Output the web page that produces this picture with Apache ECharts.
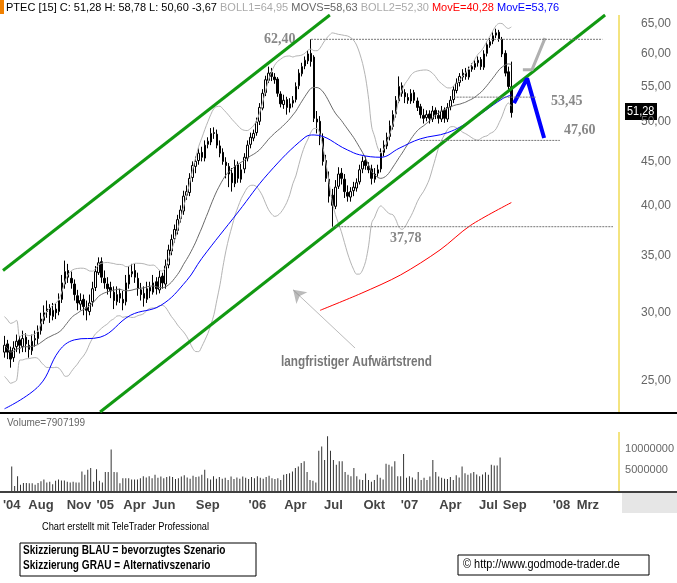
<!DOCTYPE html>
<html><head><meta charset="utf-8">
<script src="https://cdn.jsdelivr.net/npm/echarts@6/dist/echarts.min.js"></script>
<style>html,body{margin:0;padding:0;background:#fff}#c{width:677px;height:583px}</style>
</head><body><div id="c"></div>
<script>
// weekly candles, PTEC, from late May 2004
var opens = [27,27.6,27.1,26.6,27.4,27.9,27.4,28.1,27.5,27.1,27.9,
  28,28.6,29.4,30.1,30.4,29.7, 30.3,30.1,31.1,32.4, 33.6,32.9,32.4,31.4,30.7,
  31.1,30.4,30.1, 30.9,32.1,33.4,34.4, 32.9,32.4,32.1, 31.7,30.9,31.6,31.1,
  30.9,32.4,33.3,33.6, 32.9,31.9,31.6, 31.1,32.1,31.7,32.6,31.9,33.1,
  32.4,34.1,35.4,36.6,37.4, 38.6,39.4,41.1,41.4,43.1,44.4, 45.1,46.1,45.4,47.1,47.4,
  48.6,48.4,46.9,46.1,44.9, 44.4,43.6,42.4,44.6, 42.9,44.1,45.4,47.1,47.9,
  48.6,50.1,51.9,54.1,55.9, 57.1,56.4,56.1, 53.9,52.4,53.1,51.9,52.6,
  53.1,55.1,56.9, 58.1,58.9,60.1, 59.5,50.4,50.1, 47.9,45.1,42.9,41.1,
  39.9,42.1,43.6, 42.9,41.4,40.9,41.6,41.9, 42.6,44.1,45.1,44.4,44.1,
  42.9,43.6,44.1,46.1, 46.9,48.1,49.4,51.1, 52.9,55.1, 54.1,53.4,52.9,54.1,52.9,
  52.1,50.9,50.6,51.1,50.4, 51.6,50.9,50.4,51.6,50.4, 52.1,53.1,54.4,55.6,
  56.4,57.1,56.4,57.6,57.9, 58.6,59.1,57.9,60.1,61.4, 62.1,63.1,63.6, 62.4,60.1,57.2,54.95];
var closes = [27.5,27,26.5,27.3,27.8,27.5,28,27.6,27.2,27.8,28,
  28.5,29.5,30,30.3,29.8,30.2, 30,31,32.5,33.5, 33,32.5,31.5,30.8,31,
  30.5,30.2,30.8, 32,33.5,34.3,33, 32.5,32,31.8, 31,31.5,31.2,30.8,
  32.5,33.2,33.5,33, 32,31.5,31.2, 32,31.8,32.5,32,33,32.5,
  34,35.5,36.5,37.5,38.5, 39.5,41,41.5,43,44.5,45, 46,45.5,47,47.5,48.5,
  48.5,47,46,45,44.5, 43.5,42.5,44.5,43, 44,45.5,47,48,48.5,
  50,52,54,56,57, 56.5,56,54, 52.5,53,52,52.5,53,
  55,57,58, 59,60,58.8, 50.5,50,48, 45,43,41,40,
  42,43.5,43, 41.5,41,41.5,42,42.5, 44,45,44.5,44,43,
  43.5,44,46,47, 48,49.5,51,53, 55,54, 53.5,53,54,53,52,
  51,50.5,51,50.5,51.5, 51,50.5,51.5,50.5,52, 53,54.5,55.5,56.5,
  57,56.5,57.5,58,58.5, 59,58,60,61.5,62, 63,63.5,62.5, 60,57,55,51.28];
var highs = [28.2,27.9,27.4,27.8,28.3,28.2,28.6,28.4,27.9,28.3,28.6,
  29,30,30.6,31,30.7,30.8, 30.8,31.6,33.2,34.5, 34.2,33.5,32.8,31.9,31.6,
  31.5,31,31.5, 32.6,34,34.8,34.8, 33.6,33,32.6, 32.2,32.2,32,31.8,
  33.2,34,34.2,34.2, 33.4,32.5,32.2, 32.6,32.6,33.2,33,33.6,33.4,
  34.6,36,37,38,39, 40,41.6,42.2,43.6,45,45.6, 46.6,46.8,47.6,48,49.2,
  49.3,49,47.6,46.6,45.5, 44.8,44.2,45.2,45, 44.7,46,47.6,48.6,49,
  50.6,52.6,54.6,56.6,58, 57.8,57,56.4, 54.3,53.8,53.5,53.3,53.6,
  55.6,57.6,58.6, 59.6,60.6,62.4, 59.8,51.5,50.8, 48.5,45.8,43.8,41.8,
  42.8,44.3,44.2, 43.5,42.2,42,42.6,43, 44.6,45.6,45.6,44.9,44.6,
  44.2,44.6,46.6,47.6, 48.6,50.2,51.6,53.6, 56.5,55.6, 54.6,54,54.6,54.5,53.4,
  52.5,51.8,51.6,51.6,52.2, 52,51.6,52.2,52,52.6, 53.6,55,56.2,57,
  57.6,57.8,58,58.5,59, 59.6,59.5,60.6,62,62.6, 63.6,64.2,64, 62.8,60.6,58,58.78];
var lows = [26.6,26.5,25.9,26.3,27,26.9,27,27,26.6,26.8,27.4,
  27.6,28.3,29.1,29.6,29.2,29.4, 29.5,29.8,30.8,32, 32.5,32,31,30.2,30.2,
  29.8,29.4,29.8, 30.5,31.8,33.2,32.5, 32,31.5,31.2, 30.3,30.6,30.8,30.2,
  30.6,32,33,32.5, 31.4,31,30.5, 30.8,31.2,31.5,31.5,31.6,32,
  32,33.8,35,36.2,37, 38.2,39,40.6,41,42.6,43.6, 44.6,45,45,46.6,47,
  47.8,46.6,45.5,44.6,43, 42,41.5,42,42.5, 42.5,43.6,45,46.6,47.5,
  48.2,49.6,51.6,53.6,55.5, 55.8,55.4,53.5, 52,51.8,51,51.3,52,
  52.7,54.6,56.5, 57.6,58.4,58, 50,48.5,47, 44.5,42.6,40.3,37.78,
  39.6,41.8,42.3, 40.8,40.4,40.4,41,41.5, 42.3,43.6,44,43.6,42.3,
  42.5,43.2,43.7,45.6, 46.5,47.6,49,50.6, 52.6,53.5, 52.6,52.5,52.5,52.6,51.5,
  50.5,49.8,50.1,49.8,50, 50.4,49.8,50,49.9,50, 51.6,52.6,54,55,
  55.8,56,56,57.2,57.5, 58,57.5,57.5,59.6,61, 61.6,62.6,62, 59.5,56.5,54.5,50.6];
// volume in millions
var volumes = [5.8,1.2,3.5,1.5,1.9,1.9,1.8,1.8,1.5,1.9,2.3,
  2.7,2,2.2,1.6,2.4,2.7,2.5,2.5,2.2,2.0,2.2,2.0,2.0,4.6,
  3.8,5,5.4,2.2,5.1,2.4,2,4.5,4.5,
  9.8,4.5,4.4,1.8,3,3,3,2.7,2.7,2.7,3,3.5,
  3.2,3.5,3,3.8,3.1,3.4,3,3.3,3.5,3.3,2.8,3,3.4,3.7,3.2,2.9,3.6,3.3,3.4,3.8,5,
  3,2.7,3.5,2.9,3.3,2.9,3.1,2.6,3.4,2.8,
  3.2,2.9,3.4,3.1,2.8,3.3,3,3.5,3.1,2.9,3.3,3.6,
  3,2.8,3,2.6,3.8,4,4.2,4.6,5.4,5.8,6.6,7,
  4.5,2.6,2.4,2,
  9.5,10.5,7.3,12.9,9.5,7.3,6.2,7,7,4.5,3.8,3.5,5.4,
  3.5,2.7,2.6,4.1,2.6,2.2,2.6,3.8,3.1,2.7,
  6.4,6.2,5.8,7,3.5,3.5,8.7,3.1,3.5,
  3.2,2.7,4.5,2.6,3.1,2.6,3.4,7.3,4.5,3.4,3.1,2.9,
  2.8,3.3,2.6,3.7,3.2,5.8,4.2,3.8,4.2,4.5,3.9,
  3.5,3.9,4.4,3.8,
  6.2,6,6,7.9];
// MovE lines: [week, price]
var moveBlue = [[0,23.2],[11.5,24.7],[18,27.1],[23,27.9],[31.5,28.1],[41.5,29.8],[51.5,30.6],[60,32.7],[65,34.7],[77,39.3],[87,43.6],[99,48.0],[102,48.3],[113,46.4],[117,45.8],[124,45.5],[130,46.6],[137,47.8],[146,48.6],[154,50.3],[164,53.2],[167,53.76]];
var moveRed = [[104,30.2],[117.5,31.6],[130.5,33.2],[143.5,35.5],[153.5,37.9],[167,40.3]];
var trendLower = [[31.5,23.0],[197.9,66.6]];
var trendUpper = [[-0.5,33.6],[107.2,66.6]];
var levels = [{v:62.40,from:101,to:197,lab:'62,40',lx:264,ly:40},{v:53.45,from:148,to:175,lab:'53,45',lx:551,ly:102},
  {v:47.60,from:137,to:183,lab:'47,60',lx:564,ly:131},{v:37.78,from:109,to:200.5,lab:'37,78',lx:390,ly:239}];
var scenBlue = [[167.9,52.6],[172.2,56.2],[177.8,47.9]];
var scenGrey = [[170.8,57.5],[173.8,57.5],[178.1,62.6]];
var arrowPts = [[115.5,27.3],[95.1,31.9]];
var priceTicks = [25,30,35,40,45,50,55,60,65];
var xLabels = {0:"'04",10:'Aug',23:'Nov',32:"'05",42:'Apr',52:'Jun',67:'Sep',84:"'06",97:'Apr',110:'Jul',124:'Okt',136:"'07",150:'Apr',163:'Jul',172:'Sep',188:"'08",197:'Mrz'};
var NWEEKS = 201;
var SANS = '"Liberation Sans", Arial, sans-serif';

var cats = [];
for (var i = 0; i < NWEEKS; i++) cats.push(i);
var LN = Math.log;
var n = closes.length;
var candle = [], vol = [], bbM = [], bbU = [], bbL = [];
for (i = 0; i < n; i++) {
  candle.push([LN(opens[i]), LN(closes[i]), LN(lows[i]), LN(highs[i])]);
  vol.push(volumes[i] * 1e6);
  // bollinger 20
  var s = Math.max(0, i - 19), w = closes.slice(s, i + 1);
  var m = w.reduce(function (a, b) { return a + b; }, 0) / w.length;
  var sd = Math.sqrt(w.reduce(function (a, b) { return a + (b - m) * (b - m); }, 0) / w.length);
  if (w.length < 6) sd = Math.max(sd, m * 0.04);
  bbM.push(LN(m)); bbU.push(LN(m + 2 * sd)); bbL.push(LN(Math.max(m - 2 * sd, 1)));
}
function lnPts(a) { return a.map(function (p) { return [p[0], LN(p[1])]; }); }

var series = [
  { type: 'line', data: bbU, symbol: 'none', smooth: 0.3, lineStyle: { color: '#b4b4b4', width: 1 }, silent: true },
  { type: 'line', data: bbL, symbol: 'none', smooth: 0.3, lineStyle: { color: '#b4b4b4', width: 1 }, silent: true },
  { type: 'line', data: bbM, symbol: 'none', smooth: 0.3, lineStyle: { color: '#6a6a6a', width: 1 }, silent: true },
  { type: 'line', xAxisIndex: 1, data: lnPts(moveBlue), symbol: 'none', smooth: 0.4, lineStyle: { color: '#0000ff', width: 1 } },
  { type: 'line', xAxisIndex: 1, data: lnPts(moveRed), symbol: 'none', smooth: 0.3, lineStyle: { color: '#ff0000', width: 1 } },
  { type: 'candlestick', data: candle, barWidth: 2,
    itemStyle: { color: '#ffffff', color0: '#000000', borderColor: '#000000', borderColor0: '#000000', borderWidth: 1 } },
  { type: 'line', xAxisIndex: 1, data: lnPts(trendLower), symbol: 'none', lineStyle: { color: '#119911', width: 3 } },
  { type: 'line', xAxisIndex: 1, data: lnPts(trendUpper), symbol: 'none', lineStyle: { color: '#119911', width: 3 } },
  { type: 'line', xAxisIndex: 1, data: lnPts(scenGrey), symbol: 'none', lineStyle: { color: '#b0b0b0', width: 3 } },
  { type: 'line', xAxisIndex: 1, data: lnPts(scenBlue), symbol: 'none', lineStyle: { color: '#0000ff', width: 4 } },
  { type: 'lines', xAxisIndex: 1, coordinateSystem: 'cartesian2d', symbol: ['none', 'arrow'], symbolSize: 12,
    data: [{ coords: lnPts(arrowPts) }], lineStyle: { color: '#777', width: 1 } },
  { type: 'bar', xAxisIndex: 2, yAxisIndex: 1, data: vol, barWidth: 1, itemStyle: { color: '#333' }, silent: true }
];
levels.forEach(function (l) {
  series.push({ type: 'line', xAxisIndex: 1, data: [[l.from, LN(l.v)], [l.to, LN(l.v)]], symbol: 'none',
    lineStyle: { color: '#777', width: 1, type: [2, 1] } });
});

function narrowText(x, y, text, size, bold, color) {
  return { type: 'text', x: x, y: y, scaleX: 0.84,
    style: { text: text, fill: color, fontSize: size, fontWeight: bold ? 'bold' : 'normal', fontFamily: SANS } };
}

var chart = echarts.init(document.getElementById('c'));
var graphics = [
  { type: 'rect', shape: { x: 0, y: 0, width: 4, height: 14 }, style: { fill: '#f08000' } },
  { type: 'text', left: 6, top: 2, style: { rich: {
      k: { fill: '#000', fontSize: 11, fontFamily: 'Arial' }, g: { fill: '#aaa', fontSize: 11, fontFamily: 'Arial' },
      d: { fill: '#666', fontSize: 11, fontFamily: 'Arial' }, r: { fill: '#f00', fontSize: 11, fontFamily: 'Arial' },
      b: { fill: '#00f', fontSize: 11, fontFamily: 'Arial' } },
    text: '{k|PTEC [15] C: 51,28 H: 58,78 L: 50,60 -3,67 }{g|BOLL1=64,95 }{d|MOVS=58,63 }{g|BOLL2=52,30 }{r|MovE=40,28 }{b|MovE=53,76}' } },
  { type: 'line', shape: { x1: 619, y1: 15, x2: 619, y2: 412 }, style: { stroke: '#e8c800', lineWidth: 1 } },
  { type: 'line', shape: { x1: 619, y1: 432, x2: 619, y2: 491 }, style: { stroke: '#e8c800', lineWidth: 1 } },
  { type: 'line', shape: { x1: 0, y1: 413, x2: 677, y2: 413 }, style: { stroke: '#000', lineWidth: 2 } },
  { type: 'line', shape: { x1: 0, y1: 492, x2: 677, y2: 492 }, style: { stroke: '#000', lineWidth: 1.5 } },
  { type: 'rect', shape: { x: 622, y: 493, width: 55, height: 20 }, style: { fill: '#e6e6e6' } },
  { type: 'rect', shape: { x: 625, y: 103, width: 32, height: 17 }, style: { fill: '#000' } },
  narrowText(627, 105, '51,28', 13, false, '#fff'),
  { type: 'text', x: 7, y: 418, style: { text: 'Volume=7907199', fill: '#666', fontSize: 10, fontFamily: 'Arial' } },
  narrowText(281, 355, 'langfristiger Aufwärtstrend', 14, true, '#777'),
  narrowText(42, 521, 'Chart erstellt mit TeleTrader Professional', 11, false, '#000'),
  { type: 'rect', shape: { x: 20, y: 543, width: 236, height: 33 }, style: { fill: '#fff', stroke: '#000', lineWidth: 1 } },
  narrowText(23, 545, 'Skizzierung BLAU = bevorzugtes Szenario', 12, true, '#000'),
  narrowText(23, 560, 'Skizzierung GRAU = Alternativszenario', 12, true, '#000'),
  { type: 'rect', shape: { x: 458, y: 555, width: 191, height: 20 }, style: { fill: '#fff', stroke: '#000', lineWidth: 1 } },
  narrowText(463, 558, '© http://www.godmode-trader.de', 13, false, '#000')
];
levels.forEach(function (l) {
  graphics.push({ type: 'text', x: l.lx, y: l.ly - 8, style: { text: l.lab, fill: '#888', fontSize: 14, fontWeight: 'bold', fontFamily: 'Liberation Serif' } });
});

chart.setOption({
  animation: false,
  backgroundColor: '#fff',
  grid: [{ left: 3, right: 64, top: 15, bottom: 171 }, { left: 3, right: 64, top: 432, bottom: 92 }],
  xAxis: [
    { type: 'category', data: cats, gridIndex: 0, axisLabel: { show: false }, axisTick: { show: false }, axisLine: { show: false } },
    { type: 'value', gridIndex: 0, min: -0.5, max: NWEEKS - 0.5, show: false },
    { type: 'category', data: cats, gridIndex: 1, axisTick: { show: false }, axisLine: { show: false },
      axisLabel: { interval: function (idx) { return xLabels[idx] !== undefined; },
        formatter: function (v) { return xLabels[v] || ''; },
        color: '#444', fontSize: 13, fontWeight: 'bold', fontFamily: SANS, margin: 8 } }
  ],
  yAxis: [
    { type: 'value', gridIndex: 0, position: 'right', min: LN(23.0), max: LN(66.6),
      splitLine: { show: false }, axisLine: { show: false }, axisTick: { show: false },
      axisLabel: { customValues: priceTicks.map(LN), margin: 28, color: '#666', fontSize: 12, fontFamily: 'Arial',
        formatter: function (v) { return Math.exp(v).toFixed(2).replace('.', ','); } } },
    { type: 'value', gridIndex: 1, position: 'right', min: 0, max: 13.9e6,
      splitLine: { show: false }, axisLine: { show: false }, axisTick: { show: false },
      axisLabel: { customValues: [5e6, 1e7], margin: 27, color: '#666', fontSize: 11, fontFamily: 'Arial',
        formatter: function (v) { return String(v); } } }
  ],
  series: series,
  graphic: graphics
});
</script></body></html>
